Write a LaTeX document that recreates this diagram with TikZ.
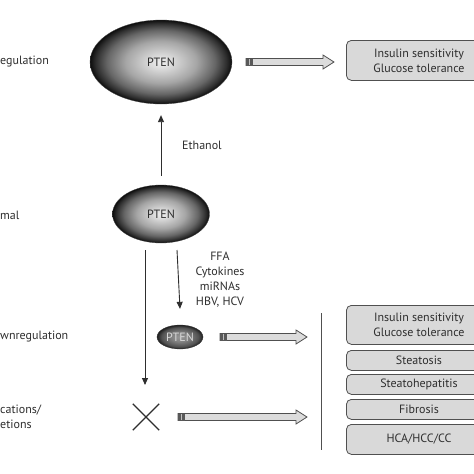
\documentclass[tikz,border=0pt]{standalone}
\usepackage{fontspec}
\setmainfont{PT Sans}
\usetikzlibrary{shapes.geometric,arrows.meta,calc}
\definecolor{txt}{HTML}{2E2E2E}
\definecolor{boxfill}{HTML}{D9D9D9}
\definecolor{boxline}{HTML}{505050}
\definecolor{shaft}{HTML}{DCDCDC}
\pgfdeclareradialshading{ptenbig}{\pgfpoint{0bp}{0bp}}{color(0bp)=(white!93!black); color(3bp)=(white!88!black); color(12.5bp)=(black!35); color(19bp)=(black!60); color(23bp)=(black!82); color(25bp)=(black!95); color(50bp)=(black)}
\pgfdeclareradialshading{ptensmall}{\pgfpoint{0bp}{0bp}}{color(0bp)=(black!40); color(10bp)=(black!50); color(20bp)=(black!68); color(25bp)=(black!88); color(50bp)=(black!90)}
\tikzset{
  lbl/.style={text=txt, font=\fontsize{12}{15}\selectfont, inner sep=0pt},
  ptenbig/.style={ellipse, shading=ptenbig, draw=black!70, line width=0.3pt, inner sep=0pt, text=txt, font=\fontsize{12}{14}\selectfont},
  ptensm/.style={ellipse, shading=ptensmall, draw=black!80, line width=0.3pt, inner sep=0pt, text=white!85!black, font=\fontsize{12}{14}\selectfont},
  outbox/.style={draw=boxline, fill=boxfill, line width=0.8pt, rounded corners=5pt, inner sep=0pt},
  arr/.style={draw=txt, line width=0.9pt, -{Triangle[length=7pt,width=6pt]}},
  fat/.style={draw=boxline, fill=shaft, line width=0.8pt, line join=miter},
}
\newcommand{\fatarrow}[3]{%
  \path let \p1=(#1), \p2=(#2) in
    coordinate (#3t) at (\x1,\y1) coordinate (#3h) at (\x2,\y1);
  \draw[fat] let \p1=(#3t), \p2=(#3h) in
    (\x1,\y1+3.5pt) -- (\x2-11pt,\y1+3.5pt) -- (\x2-11pt,\y1+7pt) -- (\x2,\y1)
    -- (\x2-11pt,\y1-7pt) -- (\x2-11pt,\y1-3.5pt) -- (\x1,\y1-3.5pt) -- cycle;
  \fill[black!65] let \p1=(#3t) in (\x1,\y1-3.5pt) rectangle (\x1+7pt,\y1+3.5pt);
  \draw[white!75!black, line width=0.7pt] let \p1=(#3t) in (\x1+3.5pt,\y1-3pt) -- (\x1+3.5pt,\y1+3pt);
}
\begin{document}
\begin{tikzpicture}[x=1pt,y=-1pt]
\clip (0,0) rectangle (474,474);
\fill[white] (0,0) rectangle (474,474);
% left labels
\node[lbl, anchor=west] (l1) at (0,62) {egulation};
\node[lbl, anchor=west] (l2) at (0,215) {mal};
\node[lbl, anchor=west] (l3) at (0,337) {wnregulation};
\node[lbl, anchor=west, align=left] (l4) at (0,417) {cations/\\etions};
% PTEN ellipses
\node[ptenbig, minimum width=142pt, minimum height=84pt] (big) at (161,62) {PTEN};
\node[ptenbig, minimum width=97pt, minimum height=58pt] (mid) at (161,214) {PTEN};
\node[ptensm, minimum width=46pt, minimum height=24pt] (small) at (180,337) {PTEN};
% X mark
\node[minimum size=26pt, inner sep=0pt] (xm) at (146,417) {};
\draw[txt, line width=1.1pt] (xm.north west) -- (xm.south east) (xm.north east) -- (xm.south west);
% vertical arrows
\draw[arr] ([yshift=9pt]mid.north) -- ([yshift=-11pt]big.south);
\node[lbl, anchor=west] (eth) at (182,145) {Ethanol};
\coordinate (d1s) at (145,250);
\coordinate (d1e) at (145,385);
\draw[arr] (d1s) -- (d1e);
\coordinate (d2s) at (177,250);
\draw[arr] (d2s) -- ([yshift=16pt]small.north);
\node[lbl, align=center] (causes) at (220,279.5) {FFA\\Cytokines\\miRNAs\\HBV, HCV};
% boxes
\node[outbox, minimum width=140pt, minimum height=40pt, anchor=north west] (b0) at (346,40) {};
\node[lbl, align=center] (b0t) at (419,60.5) {Insulin sensitivity\\Glucose tolerance};
\node[outbox, minimum width=140pt, minimum height=39pt, anchor=north west] (b1) at (346,305) {};
\node[lbl, align=center] (b1t) at (419,324.5) {Insulin sensitivity\\Glucose tolerance};
\node[outbox, minimum width=140pt, minimum height=20pt, anchor=north west] (b2) at (346,350) {};
\node[lbl] (b2t) at (419,360) {Steatosis};
\node[outbox, minimum width=140pt, minimum height=20pt, anchor=north west] (b3) at (346,374) {};
\node[lbl] (b3t) at (419,384) {Steatohepatitis};
\node[outbox, minimum width=140pt, minimum height=20pt, anchor=north west] (b4) at (346,399) {};
\node[lbl] (b4t) at (419,409) {Fibrosis};
\node[outbox, minimum width=140pt, minimum height=30pt, anchor=north west] (b5) at (346,424) {};
\node[lbl] (b5t) at (419,439) {HCA/HCC/CC};
% separator
\coordinate (vs) at (321,313);
\coordinate (ve) at (321,450);
\draw[boxline, line width=0.9pt] (vs) -- (ve);
% fat arrows
\coordinate (f1s) at (246,62);  \coordinate (f1e) at (334,62);
\coordinate (f2s) at (220,337); \coordinate (f2e) at (307,337);
\coordinate (f3s) at (178,417); \coordinate (f3e) at (307,417);
\fatarrow{f1s}{f1e}{fa}
\fatarrow{f2s}{f2e}{fb}
\fatarrow{f3s}{f3e}{fc}
\end{tikzpicture}
\end{document}
